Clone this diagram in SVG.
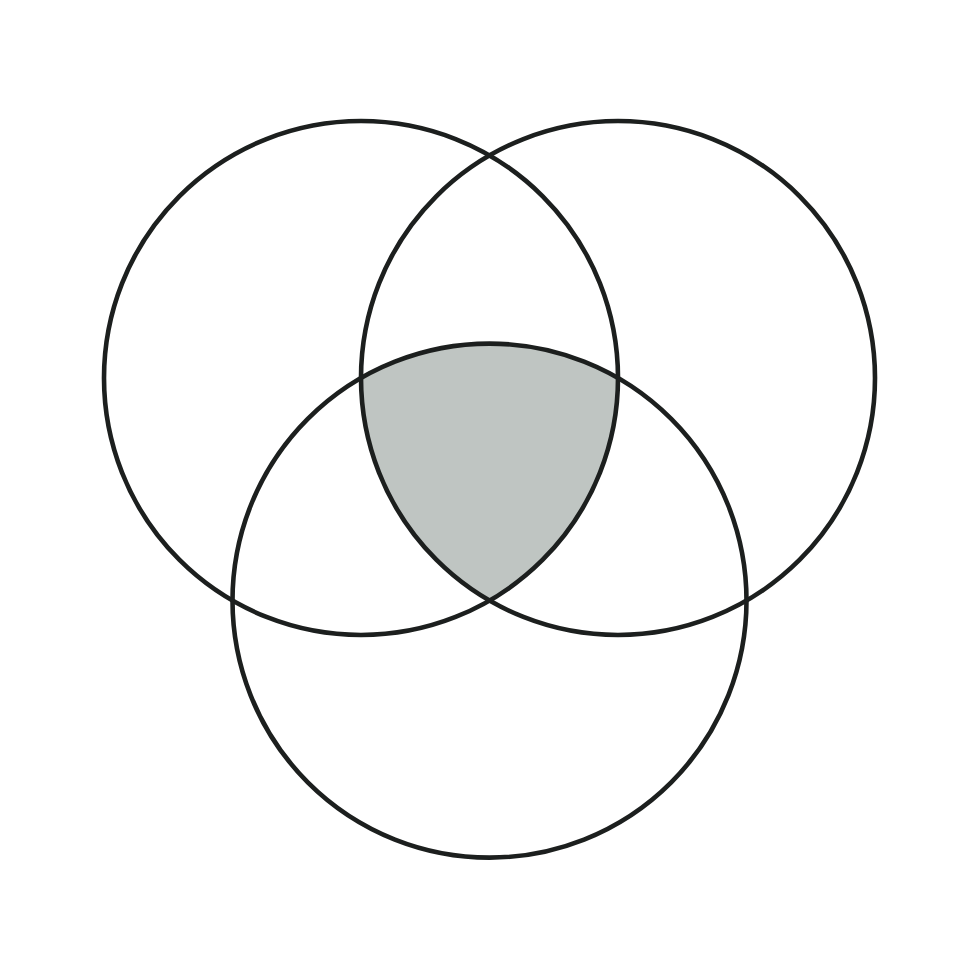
<svg xmlns="http://www.w3.org/2000/svg" width="980" height="980" viewBox="0 0 980 980">
  <style>
    .ring { fill: none; stroke: #1c1f1e; stroke-width: 4.6; }
    .core { fill: #bfc5c2; stroke: none; }
  </style>
  <rect width="980" height="980" fill="#ffffff"/>
  <g id="intersection">
    <path class="core" d="M361,378 A257,257 0 0 1 618,378 A257,257 0 0 1 489.5,600.6 A257,257 0 0 1 361,378 Z"/>
  </g>
  <g id="circle-left">
    <circle class="ring" cx="361" cy="378" r="257"/>
  </g>
  <g id="circle-right">
    <circle class="ring" cx="618" cy="378" r="257"/>
  </g>
  <g id="circle-bottom">
    <circle class="ring" cx="489.5" cy="600.6" r="257"/>
  </g>
  <g id="connectors"></g>
</svg>
